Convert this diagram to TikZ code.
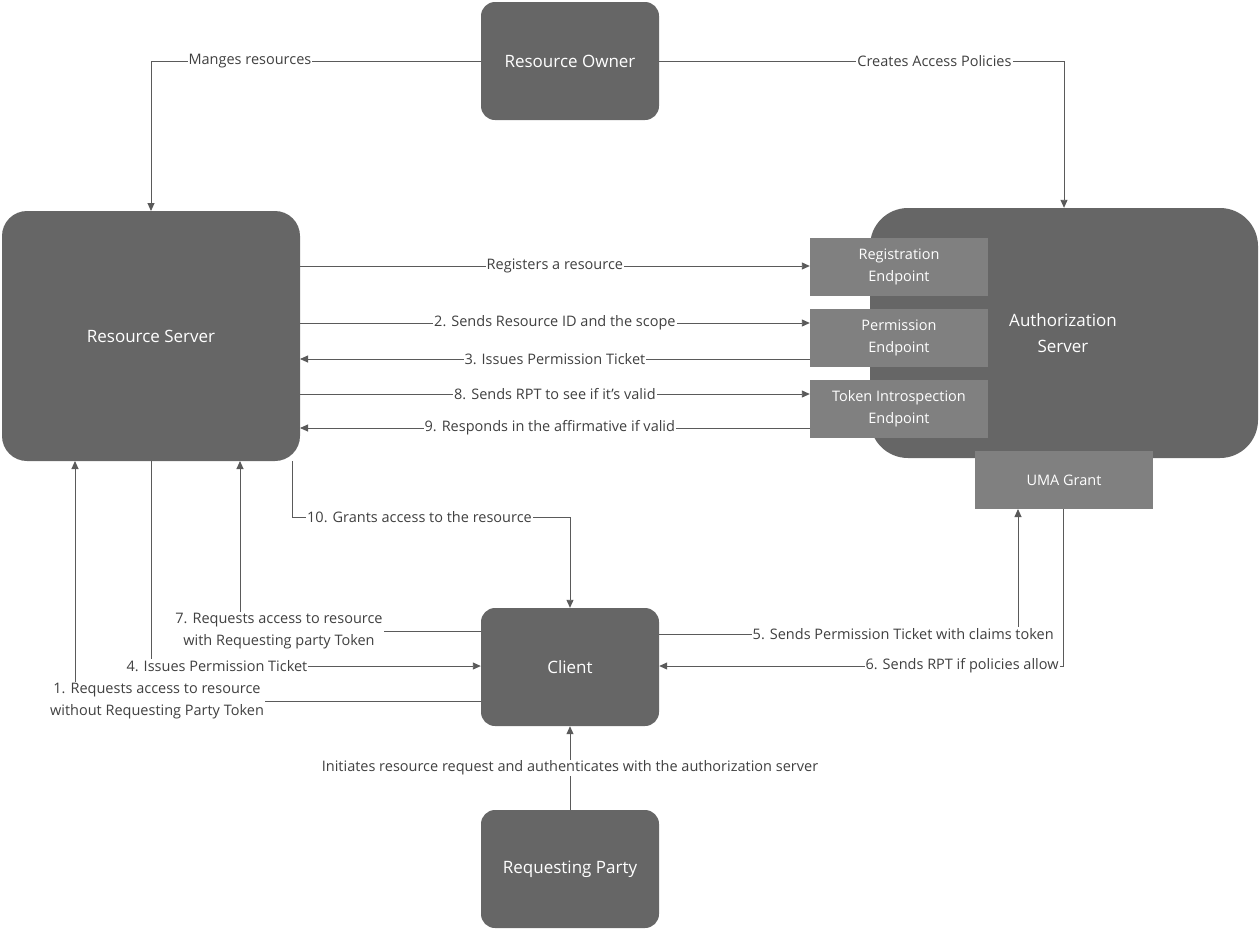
\documentclass[tikz,border=0pt]{standalone}
\usepackage{fontspec}
\setmainfont{Open Sans}
\usetikzlibrary{arrows.meta}
\definecolor{boxd}{HTML}{666666}
\definecolor{boxl}{HTML}{808080}
\definecolor{ln}{HTML}{5A5A5A}
\definecolor{tx}{HTML}{404040}
\begin{document}
\begin{tikzpicture}[x=1pt,y=-1pt,
 big/.style={draw=none,fill=boxd,text=white,font=\fontsize{17}{20}\selectfont,align=center,inner sep=0},
 ep/.style={fill=boxl,text=white,minimum width=178pt,minimum height=58pt,font=\fontsize{14.5}{22}\selectfont,align=center,inner sep=0},
 lab/.style={fill=white,text=tx,font=\fontsize{14.5}{22}\selectfont,align=center,inner sep=1pt},
 con/.style={draw=ln,line width=0.9pt,-{Triangle[length=8pt,width=7pt]}}]
\useasboundingbox (0,0) rectangle (1260,930);
% boxes
\node[big,rounded corners=14pt,minimum width=178pt,minimum height=118pt] (ro) at (570,61) {Resource Owner};
\node[big,rounded corners=25pt,minimum width=298pt,minimum height=250pt] (rs) at (151,336) {Resource Server};
\node[big,rounded corners=38pt,minimum width=388pt,minimum height=250pt] (as) at (1064,333) {};
\node[text=white,font=\fontsize{17}{26}\selectfont,align=center] (ast) at (1063,333) {Authorization\\Server};
\node[ep] (reg) at (899,267) {Registration\\Endpoint};
\node[ep] (perm) at (899,338) {Permission\\Endpoint};
\node[ep] (tok) at (899,409) {Token Introspection\\Endpoint};
\node[ep] (uma) at (1064,480) {UMA Grant};
\node[big,rounded corners=14pt,minimum width=178pt,minimum height=118pt] (cl) at (570,667) {Client};
\node[big,rounded corners=14pt,minimum width=178pt,minimum height=118pt] (rp) at (570,869) {Requesting Party};
% connectors
\draw[con] (ro.west) -- (151,61) node[lab,pos=0.7]{Manges resources} -- (151,211);
\draw[con] (ro.east) -- (1064,61) node[lab,pos=0.68]{Creates Access Policies} -- (as.north);
\draw[con] (300,266) -- node[lab]{Registers a resource} (reg.west |- 0,266);
\draw[con] (300,323) -- node[lab]{2. Sends Resource ID and the scope} (perm.west |- 0,323);
\draw[con] (perm.west |- 0,359) -- node[lab]{3. Issues Permission Ticket} (300,359);
\draw[con] (300,394) -- node[lab]{8. Sends RPT to see if it’s valid} (tok.west |- 0,394);
\draw[con] (tok.west |- 0,428) -- node[lab,pos=0.51]{9. Responds in the affirmative if valid} (300,428);
\draw[con] (292,461) -- (292,517) -- (570,517) -- (cl.north);
\node[lab,anchor=west] at (306,517) {10. Grants access to the resource};
\draw[con] (cl.west |- 0,631) -- (240,631) -- (240,461);
\node[lab] at (279,631) {7. Requests access to resource\\with Requesting party Token};
\draw[con] (151,461) -- (151,666) -- node[lab,pos=0.2]{4. Issues Permission Ticket} (cl.west |- 0,666);
\draw[con] (cl.west |- 0,701) -- (75,701) -- (75,461);
\node[lab] at (157,701) {1. Requests access to resource\\without Requesting Party Token};
\draw[con] (cl.east |- 0,634) -- node[lab,pos=0.68]{5. Sends Permission Ticket with claims token} (1018,634) -- (1018,509);
\draw[con] (1063,509) -- (1063,666) -- node[lab,pos=0.25]{6. Sends RPT if policies allow} (cl.east |- 0,666);
\draw[con] (rp.north) -- node[lab]{Initiates resource request and authenticates with the authorization server} (cl.south);
\end{tikzpicture}
\end{document}
